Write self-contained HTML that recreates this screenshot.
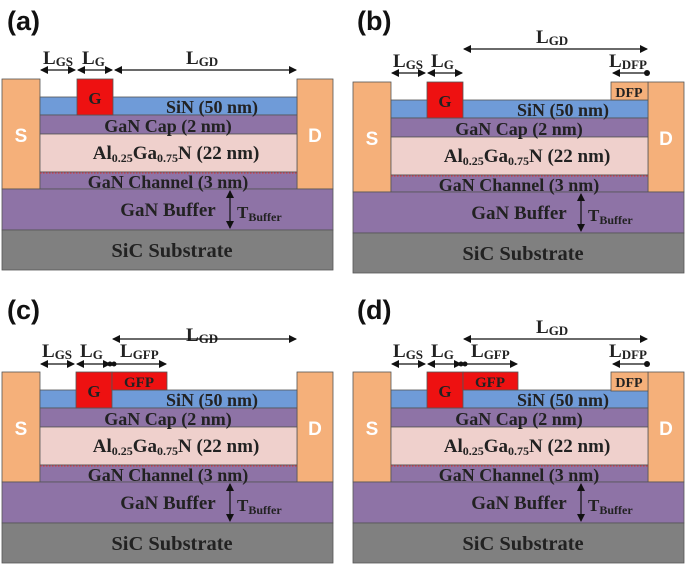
<!DOCTYPE html>
<html><head><meta charset="utf-8"><style>
html,body{margin:0;padding:0;background:#fff;width:685px;height:567px;overflow:hidden}
text{font-family:"Liberation Serif",serif;font-weight:bold;fill:#222}
.sd{font-family:"Liberation Sans",sans-serif;fill:#fff;font-size:19px}
.pl{font-family:"Liberation Sans",sans-serif;fill:#111;font-size:27px}
</style></head><body>
<svg width="685" height="567" viewBox="0 0 685 567" xmlns="http://www.w3.org/2000/svg">
<defs>
<marker id="ah" markerWidth="8" markerHeight="8" refX="7" refY="4" orient="auto-start-reverse" markerUnits="userSpaceOnUse"><path d="M0,0 L8,4 L0,8z" fill="#111"/></marker>
<g id="base" stroke="#555" stroke-width="0.8">
<rect x="2" y="79" width="38" height="110" fill="#f5b07a"/>
<rect x="297" y="79" width="36" height="110" fill="#f5b07a"/>
<rect x="40" y="97" width="257" height="18" fill="#6f9bd8"/>
<rect x="40" y="115" width="257" height="19" fill="#8e73a6"/>
<rect x="40" y="134" width="257" height="38" fill="#efd0cc"/>
<rect x="40" y="172" width="257" height="17" fill="#8e73a6"/>
<line x1="40" y1="173" x2="297" y2="173" stroke="#e03030" stroke-dasharray="1.5,1.5" stroke-width="1"/>
<rect x="2" y="189" width="331" height="41" fill="#8e73a6"/>
<rect x="2" y="230" width="331" height="40" fill="#808080"/>
</g>
<g id="txt">
<text x="212" y="113" font-size="18" text-anchor="middle">SiN (50 nm)</text>
<text x="168" y="132" font-size="18" text-anchor="middle">GaN Cap (2 nm)</text>
<text x="176" y="159" font-size="19" text-anchor="middle">Al<tspan font-size="12" dy="3">0.25</tspan><tspan dy="-3">Ga</tspan><tspan font-size="12" dy="3">0.75</tspan><tspan dy="-3">N (22 nm)</tspan></text>
<text x="168" y="188" font-size="18" text-anchor="middle">GaN Channel (3 nm)</text>
<text x="168" y="216" font-size="19" text-anchor="middle">GaN Buffer</text>
<text x="172" y="257" font-size="20.5" text-anchor="middle">SiC Substrate</text>
<text class="sd" x="21" y="142" text-anchor="middle">S</text>
<text class="sd" x="315" y="142" text-anchor="middle">D</text>
<line x1="230" y1="191" x2="230" y2="228" stroke="#111" stroke-width="1.2" marker-start="url(#ah)" marker-end="url(#ah)"/>
<text x="237" y="218" font-size="17">T<tspan font-size="12" dy="3">Buffer</tspan></text>
</g>
</defs>

<!-- (a) -->
<g>
<use href="#base"/>
<rect x="77" y="79" width="36" height="36" fill="#ee1111" stroke="#555" stroke-width="0.8"/>
<text x="95" y="104" font-size="17" text-anchor="middle">G</text>
<use href="#txt"/>
<g stroke="#111" stroke-width="1.2">
<line x1="41" y1="70" x2="75" y2="70" marker-start="url(#ah)" marker-end="url(#ah)"/>
<line x1="78" y1="70" x2="112" y2="70" marker-start="url(#ah)" marker-end="url(#ah)"/>
<line x1="115" y1="70" x2="296" y2="70" marker-start="url(#ah)" marker-end="url(#ah)"/>
</g>
<text x="43" y="64" font-size="19">L<tspan font-size="13" dy="2">GS</tspan></text>
<text x="82" y="64" font-size="19">L<tspan font-size="13" dy="2">G</tspan></text>
<text x="186" y="64" font-size="19">L<tspan font-size="13" dy="2">GD</tspan></text>
<text class="pl" x="7" y="30">(a)</text>
</g>

<!-- (b) -->
<g transform="translate(351,3)">
<use href="#base"/>
<rect x="76" y="79" width="36" height="36" fill="#ee1111" stroke="#555" stroke-width="0.8"/>
<text x="94" y="104" font-size="17" text-anchor="middle">G</text>
<rect x="260" y="79" width="37" height="18" fill="#f5b07a" stroke="#555" stroke-width="0.8"/>
<text x="278" y="94" font-size="14" text-anchor="middle">DFP</text>
<use href="#txt"/>
<g stroke="#111" stroke-width="1.2">
<line x1="41" y1="70" x2="74" y2="70" marker-start="url(#ah)" marker-end="url(#ah)"/>
<line x1="77" y1="70" x2="111" y2="70" marker-start="url(#ah)" marker-end="url(#ah)"/>
<line x1="113" y1="46" x2="296" y2="46" marker-start="url(#ah)" marker-end="url(#ah)"/>
<line x1="296" y1="70" x2="262" y2="70" marker-end="url(#ah)"/>
</g>
<circle cx="296" cy="70" r="3" fill="#111"/>
<text x="42" y="64" font-size="19">L<tspan font-size="13" dy="2">GS</tspan></text>
<text x="80" y="64" font-size="19">L<tspan font-size="13" dy="2">G</tspan></text>
<text x="185" y="40" font-size="19">L<tspan font-size="13" dy="2">GD</tspan></text>
<text x="258" y="64" font-size="19">L<tspan font-size="13" dy="2">DFP</tspan></text>
<text class="pl" x="6" y="27">(b)</text>
</g>

<!-- (c) -->
<g transform="translate(0,293)">
<use href="#base"/>
<rect x="76" y="79" width="36" height="36" fill="#ee1111" stroke="#555" stroke-width="0.8"/>
<text x="94" y="104" font-size="17" text-anchor="middle">G</text>
<rect x="112" y="79" width="55" height="18" fill="#ee1111" stroke="#555" stroke-width="0.8"/>
<text x="139" y="94" font-size="15" text-anchor="middle">GFP</text>
<use href="#txt"/>
<text x="186" y="48" font-size="19">L<tspan font-size="13" dy="2">GD</tspan></text>
<g stroke="#111" stroke-width="1.2">
<line x1="41" y1="71" x2="74" y2="71" marker-start="url(#ah)" marker-end="url(#ah)"/>
<line x1="77" y1="71" x2="110" y2="71" marker-start="url(#ah)" marker-end="url(#ah)"/>
<line x1="113" y1="71" x2="166" y2="71" marker-end="url(#ah)"/>
<line x1="113" y1="46" x2="296" y2="46" marker-start="url(#ah)" marker-end="url(#ah)"/>
</g>
<circle cx="110" cy="71" r="2.5" fill="#111"/><circle cx="114" cy="71" r="2.5" fill="#111"/>
<text x="42" y="64" font-size="19">L<tspan font-size="13" dy="2">GS</tspan></text>
<text x="80" y="64" font-size="19">L<tspan font-size="13" dy="2">G</tspan></text>
<text x="120" y="64" font-size="19">L<tspan font-size="13" dy="2">GFP</tspan></text>
<text class="pl" x="7" y="26">(c)</text>
</g>

<!-- (d) -->
<g transform="translate(351,293)">
<use href="#base"/>
<rect x="76" y="79" width="36" height="36" fill="#ee1111" stroke="#555" stroke-width="0.8"/>
<text x="94" y="104" font-size="17" text-anchor="middle">G</text>
<rect x="112" y="79" width="55" height="18" fill="#ee1111" stroke="#555" stroke-width="0.8"/>
<text x="139" y="94" font-size="15" text-anchor="middle">GFP</text>
<rect x="260" y="79" width="37" height="19" fill="#f5b07a" stroke="#555" stroke-width="0.8"/>
<text x="278" y="94" font-size="14" text-anchor="middle">DFP</text>
<use href="#txt"/>
<g stroke="#111" stroke-width="1.2">
<line x1="41" y1="71" x2="74" y2="71" marker-start="url(#ah)" marker-end="url(#ah)"/>
<line x1="77" y1="71" x2="110" y2="71" marker-start="url(#ah)" marker-end="url(#ah)"/>
<line x1="113" y1="71" x2="166" y2="71" marker-end="url(#ah)"/>
<line x1="113" y1="46" x2="296" y2="46" marker-start="url(#ah)" marker-end="url(#ah)"/>
<line x1="296" y1="71" x2="262" y2="71" marker-end="url(#ah)"/>
</g>
<circle cx="110" cy="71" r="2.5" fill="#111"/><circle cx="114" cy="71" r="2.5" fill="#111"/>
<circle cx="296" cy="71" r="3" fill="#111"/>
<text x="42" y="64" font-size="19">L<tspan font-size="13" dy="2">GS</tspan></text>
<text x="80" y="64" font-size="19">L<tspan font-size="13" dy="2">G</tspan></text>
<text x="120" y="64" font-size="19">L<tspan font-size="13" dy="2">GFP</tspan></text>
<text x="185" y="40" font-size="19">L<tspan font-size="13" dy="2">GD</tspan></text>
<text x="258" y="64" font-size="19">L<tspan font-size="13" dy="2">DFP</tspan></text>
<text class="pl" x="6" y="26">(d)</text>
</g>
</svg>
</body></html>
